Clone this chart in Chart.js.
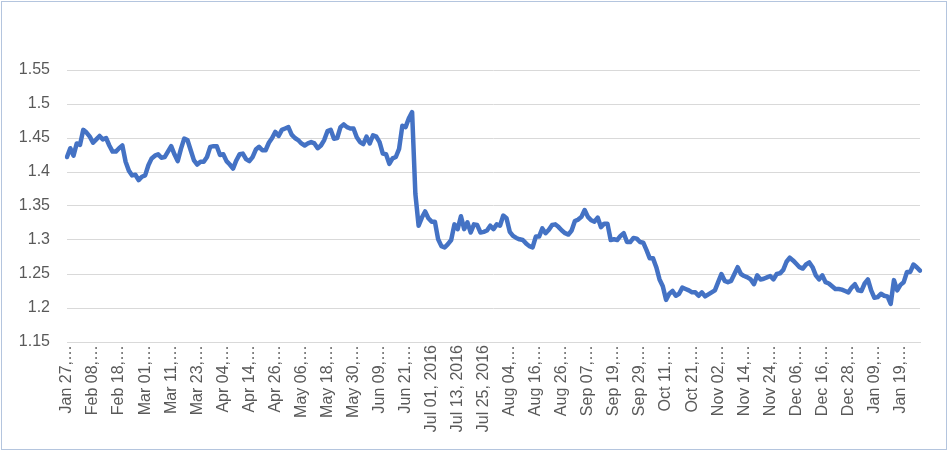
<!DOCTYPE html>
<html>
<head>
<meta charset="utf-8">
<title>GBP/USD</title>
<script src="https://cdn.jsdelivr.net/npm/chart.js@4/dist/chart.umd.min.js"></script>
<style>
    html, body { margin: 0; padding: 0; background: #fff; }
    #chart { position: absolute; left: 0; top: 0; }
    #frame { position: absolute; left: 1px; top: 1px; width: 944px; height: 447px; border: 1px solid #b4c5de; pointer-events: none; }
</style>
</head>
<body>
<canvas id="chart" width="948" height="452"></canvas>
<div id="frame"></div>
<script>
// Daily closes, one per weekday from Jan 27, 2016 to Jan 27, 2017
const rates = [
    1.422, 1.435, 1.424, 1.442, 1.440, 1.462, 1.458, 1.452, 1.443, 1.448,
    1.453, 1.448, 1.450, 1.439, 1.430, 1.430, 1.435, 1.439, 1.415, 1.402,
    1.395, 1.396, 1.388, 1.393, 1.395, 1.410, 1.420, 1.424, 1.426, 1.421,
    1.422, 1.430, 1.438, 1.426, 1.416, 1.434, 1.449, 1.447, 1.432, 1.417,
    1.411, 1.415, 1.415, 1.422, 1.437, 1.438, 1.438, 1.425, 1.426, 1.416,
    1.411, 1.405, 1.417, 1.426, 1.427, 1.419, 1.416, 1.422, 1.433, 1.437,
    1.432, 1.432, 1.443, 1.450, 1.459, 1.453, 1.462, 1.464, 1.466, 1.455,
    1.450, 1.447, 1.442, 1.439, 1.442, 1.444, 1.442, 1.435, 1.439, 1.447,
    1.460, 1.462, 1.449, 1.450, 1.466, 1.470, 1.466, 1.464, 1.464, 1.451,
    1.444, 1.441, 1.452, 1.442, 1.454, 1.452, 1.444, 1.427, 1.426, 1.412,
    1.420, 1.422, 1.434, 1.468, 1.466, 1.479, 1.488, 1.368, 1.321, 1.333,
    1.342, 1.332, 1.327, 1.327, 1.301, 1.291, 1.289, 1.294, 1.300, 1.323,
    1.316, 1.335, 1.316, 1.326, 1.311, 1.323, 1.322, 1.311, 1.312, 1.314,
    1.321, 1.316, 1.323, 1.321, 1.336, 1.332, 1.312, 1.306, 1.303, 1.301,
    1.300, 1.295, 1.291, 1.289, 1.305, 1.305, 1.317, 1.310, 1.315, 1.322,
    1.323, 1.319, 1.314, 1.310, 1.308, 1.314, 1.328, 1.330, 1.334, 1.344,
    1.334, 1.329, 1.327, 1.333, 1.319, 1.324, 1.324, 1.300, 1.301, 1.300,
    1.306, 1.310, 1.297, 1.297, 1.303, 1.302, 1.297, 1.296, 1.285, 1.273,
    1.273, 1.260, 1.242, 1.232, 1.212, 1.221, 1.225, 1.218, 1.221, 1.230,
    1.228, 1.226, 1.223, 1.223, 1.218, 1.223, 1.217, 1.220, 1.223, 1.226,
    1.238, 1.250, 1.240, 1.238, 1.240, 1.250, 1.260, 1.250, 1.247, 1.245,
    1.242, 1.235, 1.248, 1.242, 1.243, 1.245, 1.247, 1.242, 1.250, 1.251,
    1.256, 1.268, 1.274, 1.270, 1.265, 1.260, 1.258, 1.264, 1.267, 1.260,
    1.248, 1.242, 1.248, 1.238, 1.236, 1.232, 1.228, 1.228, 1.227, 1.225,
    1.223, 1.230, 1.235, 1.226, 1.225, 1.236, 1.242, 1.226, 1.215, 1.216,
    1.221, 1.218, 1.217, 1.206, 1.241, 1.226, 1.234, 1.238, 1.253, 1.253,
    1.264, 1.260, 1.255
];

// Excel only prints every 8th date, most of them cut short
const xTickLabels = [
    'Jan 27,\u2026', 'Feb 08,\u2026', 'Feb 18,\u2026', 'Mar 01,\u2026', 'Mar 11,\u2026',
    'Mar 23,\u2026', 'Apr 04,\u2026', 'Apr 14,\u2026', 'Apr 26,\u2026', 'May 06,\u2026',
    'May 18,\u2026', 'May 30,\u2026', 'Jun 09,\u2026', 'Jun 21,\u2026', 'Jul 01, 2016',
    'Jul 13, 2016', 'Jul 25, 2016', 'Aug 04,\u2026', 'Aug 16,\u2026', 'Aug 26,\u2026',
    'Sep 07,\u2026', 'Sep 19,\u2026', 'Sep 29,\u2026', 'Oct 11,\u2026', 'Oct 21,\u2026',
    'Nov 02,\u2026', 'Nov 14,\u2026', 'Nov 24,\u2026', 'Dec 06,\u2026', 'Dec 16,\u2026',
    'Dec 28,\u2026', 'Jan 09,\u2026', 'Jan 19,\u2026'
];
const tickEvery = 8;

const yMin = 1.15;
const yMax = 1.55;
const yStep = 0.05;

// Category labels: weekdays starting Jan 27, 2016
const months = ['Jan', 'Feb', 'Mar', 'Apr', 'May', 'Jun', 'Jul', 'Aug', 'Sep', 'Oct', 'Nov', 'Dec'];
const dates = [];
const d = new Date(2016, 0, 27);
while (dates.length < rates.length) {
    const wd = d.getDay();
    if (wd !== 0 && wd !== 6) {
        dates.push(months[d.getMonth()] + ' ' + String(d.getDate()).padStart(2, '0') + ', ' + d.getFullYear());
    }
    d.setDate(d.getDate() + 1);
}

const FONT = "'Liberation Sans', Arial, sans-serif";
const GRID = '#d9d9d9';
const TEXT = '#595959';

new Chart(document.getElementById('chart').getContext('2d'), {
    type: 'line',
    data: {
        labels: dates,
        datasets: [{
            data: rates,
            borderColor: '#4472c4',
            borderWidth: 4.5,
            borderJoinStyle: 'round',
            borderCapStyle: 'round',
            pointRadius: 0,
            tension: 0,
            fill: false
        }]
    },
    options: {
        responsive: false,
        animation: false,
        devicePixelRatio: 1,
        layout: { padding: { top: 70, right: 28, bottom: 0, left: 0 } },
        plugins: {
            legend: { display: false },
            tooltip: { enabled: false }
        },
        scales: {
            x: {
                type: 'category',
                offset: false,
                grid: { display: false, drawTicks: false },
                border: { display: true, color: GRID, width: 1 },
                afterBuildTicks: (axis) => {
                    axis.ticks = axis.ticks.filter(t => t.value % tickEvery === 0);
                },
                afterFit: (axis) => { axis.height = 110; },
                ticks: {
                    autoSkip: false,
                    minRotation: 90,
                    maxRotation: 90,
                    padding: 3,
                    color: TEXT,
                    font: { family: FONT, size: 16 },
                    callback: (value) => xTickLabels[value / tickEvery]
                }
            },
            y: {
                min: yMin,
                max: yMax,
                grid: { color: GRID, lineWidth: 1, drawTicks: false },
                border: { display: false },
                afterFit: (axis) => { axis.width = 67; },
                ticks: {
                    stepSize: yStep,
                    padding: 17,
                    color: TEXT,
                    font: { family: FONT, size: 16 },
                    callback: (v) => String(Number(v.toFixed(2)))
                }
            }
        }
    }
});
</script>
</body>
</html>
